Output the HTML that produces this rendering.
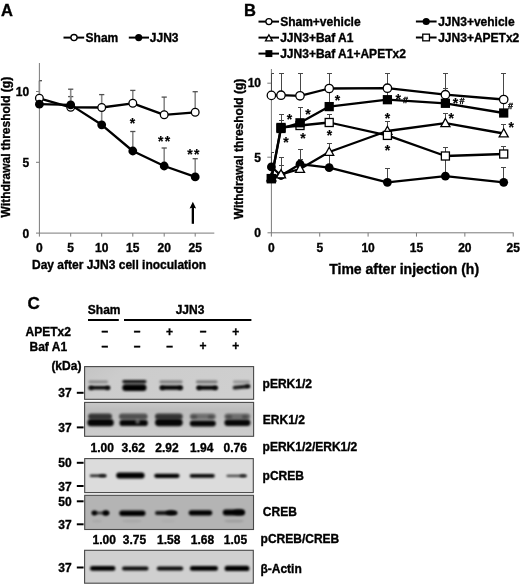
<!DOCTYPE html>
<html><head><meta charset="utf-8"><title>Figure</title>
<style>html,body{margin:0;padding:0;background:#fff;width:520px;height:585px;overflow:hidden}svg{display:block}</style>
</head><body>
<svg width="520" height="585" viewBox="0 0 520 585" font-family="'Liberation Sans', Arial, sans-serif" font-weight="bold">
<defs><filter id="bl" x="-30%" y="-150%" width="160%" height="400%"><feGaussianBlur stdDeviation="0.95"/></filter>
<filter id="bl2" x="-30%" y="-150%" width="160%" height="400%"><feGaussianBlur stdDeviation="1.3"/></filter>
<linearGradient id="g1" x1="0" y1="0" x2="1" y2="0.25"><stop offset="0" stop-color="#c4c4c4"/><stop offset="0.25" stop-color="#cccccc"/><stop offset="1" stop-color="#cfcfcf"/></linearGradient>
<linearGradient id="g2" x1="0" y1="0" x2="0" y2="1"><stop offset="0" stop-color="#c8c8c8"/><stop offset="0.2" stop-color="#bdbdbd"/><stop offset="0.45" stop-color="#c0c0c0"/><stop offset="0.75" stop-color="#cacaca"/><stop offset="1" stop-color="#cccccc"/></linearGradient>
</defs>
<rect width="520" height="585" fill="#fff"/>
<text x="1" y="16.3" font-size="16.5" text-anchor="start" stroke="#000" stroke-width="0.35" >A</text>
<line x1="63.5" y1="37.6" x2="84.2" y2="37.6" stroke="#000" stroke-width="2.0" />
<circle cx="74.0" cy="37.6" r="3.1" fill="#fff" stroke="#000" stroke-width="1.3"/>
<text x="85.6" y="42" font-size="12" text-anchor="start" stroke="#000" stroke-width="0.35" >Sham</text>
<line x1="128.8" y1="37.6" x2="149" y2="37.6" stroke="#000" stroke-width="2.0" />
<circle cx="138.7" cy="37.6" r="3.6" fill="#000"/>
<text x="149.8" y="42" font-size="12" text-anchor="start" stroke="#000" stroke-width="0.35" >JJN3</text>
<line x1="39.4" y1="63" x2="39.4" y2="233.2" stroke="#7a7a7a" stroke-width="1" />
<line x1="36" y1="233.1" x2="214.3" y2="233.1" stroke="#7a7a7a" stroke-width="1" />
<line x1="36" y1="91.5" x2="39.3" y2="91.5" stroke="#7a7a7a" stroke-width="1" />
<line x1="36" y1="162.3" x2="39.3" y2="162.3" stroke="#7a7a7a" stroke-width="1" />
<line x1="39.4" y1="233.1" x2="39.4" y2="236.6" stroke="#7a7a7a" stroke-width="1" />
<line x1="70.7" y1="233.1" x2="70.7" y2="236.6" stroke="#7a7a7a" stroke-width="1" />
<line x1="101.7" y1="233.1" x2="101.7" y2="236.6" stroke="#7a7a7a" stroke-width="1" />
<line x1="132.8" y1="233.1" x2="132.8" y2="236.6" stroke="#7a7a7a" stroke-width="1" />
<line x1="164.2" y1="233.1" x2="164.2" y2="236.6" stroke="#7a7a7a" stroke-width="1" />
<line x1="195.2" y1="233.1" x2="195.2" y2="236.6" stroke="#7a7a7a" stroke-width="1" />
<text x="29.2" y="95.6" font-size="12" text-anchor="end" stroke="#000" stroke-width="0.35" >10</text>
<text x="29.2" y="167.10000000000002" font-size="12" text-anchor="end" stroke="#000" stroke-width="0.35" >5</text>
<text x="29.2" y="237.60000000000002" font-size="12" text-anchor="end" stroke="#000" stroke-width="0.35" >0</text>
<text x="39.4" y="251.8" font-size="12" text-anchor="middle" stroke="#000" stroke-width="0.35" >0</text>
<text x="70.7" y="251.8" font-size="12" text-anchor="middle" stroke="#000" stroke-width="0.35" >5</text>
<text x="101.7" y="251.8" font-size="12" text-anchor="middle" stroke="#000" stroke-width="0.35" >10</text>
<text x="132.8" y="251.8" font-size="12" text-anchor="middle" stroke="#000" stroke-width="0.35" >15</text>
<text x="164.2" y="251.8" font-size="12" text-anchor="middle" stroke="#000" stroke-width="0.35" >20</text>
<text x="195.2" y="251.8" font-size="12" text-anchor="middle" stroke="#000" stroke-width="0.35" >25</text>
<text x="32.0" y="269.4" font-size="12" text-anchor="start" stroke="#000" stroke-width="0.35" >Day after JJN3 cell inoculation</text>
<text transform="translate(9.9,147.1) rotate(-90)" x="0" y="0" font-size="12" text-anchor="middle" stroke="#000" stroke-width="0.35">Withdrawal threshold (g)</text>
<line x1="39.4" y1="98.3" x2="39.4" y2="80.7" stroke="#8a8a8a" stroke-width="1.6" />
<line x1="39.4" y1="80.7" x2="42.0" y2="80.7" stroke="#505050" stroke-width="1.3" />
<line x1="70.7" y1="107.3" x2="70.7" y2="96.6" stroke="#8a8a8a" stroke-width="1.6" />
<line x1="68.10000000000001" y1="96.6" x2="73.3" y2="96.6" stroke="#505050" stroke-width="1.3" />
<line x1="101.7" y1="107.5" x2="101.7" y2="94.6" stroke="#8a8a8a" stroke-width="1.6" />
<line x1="99.10000000000001" y1="94.6" x2="104.3" y2="94.6" stroke="#505050" stroke-width="1.3" />
<line x1="132.8" y1="103.3" x2="132.8" y2="90.4" stroke="#8a8a8a" stroke-width="1.6" />
<line x1="130.20000000000002" y1="90.4" x2="135.4" y2="90.4" stroke="#505050" stroke-width="1.3" />
<line x1="164.2" y1="114.8" x2="164.2" y2="97.1" stroke="#8a8a8a" stroke-width="1.6" />
<line x1="161.6" y1="97.1" x2="166.79999999999998" y2="97.1" stroke="#505050" stroke-width="1.3" />
<line x1="195.2" y1="112.3" x2="195.2" y2="91.7" stroke="#8a8a8a" stroke-width="1.6" />
<line x1="192.6" y1="91.7" x2="197.79999999999998" y2="91.7" stroke="#505050" stroke-width="1.3" />
<line x1="70.7" y1="104.9" x2="70.7" y2="89.2" stroke="#8a8a8a" stroke-width="1.6" />
<line x1="68.10000000000001" y1="89.2" x2="73.3" y2="89.2" stroke="#505050" stroke-width="1.3" />
<line x1="101.7" y1="124.8" x2="101.7" y2="107.5" stroke="#8a8a8a" stroke-width="1.6" />
<line x1="99.10000000000001" y1="107.5" x2="104.3" y2="107.5" stroke="#505050" stroke-width="1.3" />
<line x1="132.8" y1="151.0" x2="132.8" y2="131.5" stroke="#8a8a8a" stroke-width="1.6" />
<line x1="130.20000000000002" y1="131.5" x2="135.4" y2="131.5" stroke="#505050" stroke-width="1.3" />
<line x1="164.2" y1="166.0" x2="164.2" y2="148.0" stroke="#8a8a8a" stroke-width="1.6" />
<line x1="161.6" y1="148.0" x2="166.79999999999998" y2="148.0" stroke="#505050" stroke-width="1.3" />
<line x1="195.2" y1="176.9" x2="195.2" y2="158.7" stroke="#8a8a8a" stroke-width="1.6" />
<line x1="192.6" y1="158.7" x2="197.79999999999998" y2="158.7" stroke="#505050" stroke-width="1.3" />
<polyline points="39.4,98.3 70.7,107.3 101.7,107.5 132.8,103.3 164.2,114.8 195.2,112.3" fill="none" stroke="#000" stroke-width="2.3" stroke-linejoin="round"/>
<polyline points="39.4,104.2 70.7,104.9 101.7,124.8 132.8,151.0 164.2,166.0 195.2,176.9" fill="none" stroke="#000" stroke-width="2.3" stroke-linejoin="round"/>
<circle cx="39.4" cy="98.3" r="3.85" fill="#fff" stroke="#000" stroke-width="1.3"/>
<circle cx="70.7" cy="107.3" r="3.85" fill="#fff" stroke="#000" stroke-width="1.3"/>
<circle cx="101.7" cy="107.5" r="3.85" fill="#fff" stroke="#000" stroke-width="1.3"/>
<circle cx="132.8" cy="103.3" r="3.85" fill="#fff" stroke="#000" stroke-width="1.3"/>
<circle cx="164.2" cy="114.8" r="3.85" fill="#fff" stroke="#000" stroke-width="1.3"/>
<circle cx="195.2" cy="112.3" r="3.85" fill="#fff" stroke="#000" stroke-width="1.3"/>
<circle cx="39.4" cy="104.2" r="4.4" fill="#000"/>
<circle cx="70.7" cy="104.9" r="4.4" fill="#000"/>
<circle cx="101.7" cy="124.8" r="4.4" fill="#000"/>
<circle cx="132.8" cy="151.0" r="4.4" fill="#000"/>
<circle cx="164.2" cy="166.0" r="4.4" fill="#000"/>
<circle cx="195.2" cy="176.9" r="4.4" fill="#000"/>
<text x="132.6" y="128.1" font-size="14" text-anchor="middle" stroke="#000" stroke-width="0.15">*</text>
<text x="164.7" y="145.70000000000002" font-size="14" text-anchor="middle" stroke="#000" stroke-width="0.15" letter-spacing="1.2">**</text>
<text x="194.0" y="159.3" font-size="14" text-anchor="middle" stroke="#000" stroke-width="0.15" letter-spacing="1.2">**</text>
<line x1="192.85" y1="206" x2="192.85" y2="223.8" stroke="#000" stroke-width="2.3" />
<polygon points="192.85,201.8 196.1,208.4 192.85,207.6 189.6,208.4" fill="#000"/>
<text x="244.0" y="15.6" font-size="16.5" text-anchor="start" stroke="#000" stroke-width="0.35" >B</text>
<line x1="258.5" y1="21.6" x2="279" y2="21.6" stroke="#000" stroke-width="2.0" />
<circle cx="268.9" cy="21.6" r="3.0500000000000003" fill="#fff" stroke="#000" stroke-width="1.3"/>
<text x="280.2" y="25.900000000000002" font-size="12" text-anchor="start" stroke="#000" stroke-width="0.35" >Sham+vehicle</text>
<line x1="258.5" y1="37.6" x2="279" y2="37.6" stroke="#000" stroke-width="2.0" />
<polygon points="268.9,34.73105 272.299,40.849250000000005 265.501,40.849250000000005" fill="#fff" stroke="#000" stroke-width="1.3" stroke-linejoin="miter"/>
<text x="280.2" y="41.9" font-size="12" text-anchor="start" stroke="#000" stroke-width="0.35" >JJN3+Baf A1</text>
<line x1="258.5" y1="53.6" x2="279" y2="53.6" stroke="#000" stroke-width="2.0" />
<rect x="265.435" y="50.135000000000005" width="6.93" height="6.93" fill="#000"/>
<text x="280.2" y="57.9" font-size="12" text-anchor="start" stroke="#000" stroke-width="0.35" >JJN3+Baf A1+APETx2</text>
<line x1="415.9" y1="21.5" x2="436.6" y2="21.5" stroke="#000" stroke-width="2.0" />
<circle cx="426.2" cy="21.5" r="3.6" fill="#000"/>
<text x="438.2" y="25.8" font-size="12" text-anchor="start" stroke="#000" stroke-width="0.35" >JJN3+vehicle</text>
<line x1="415.9" y1="37.5" x2="436.6" y2="37.5" stroke="#000" stroke-width="2.0" />
<rect x="422.76250000000005" y="34.1625" width="6.675" height="6.675" fill="#fff" stroke="#000" stroke-width="1.3"/>
<text x="438.2" y="41.8" font-size="12" text-anchor="start" stroke="#000" stroke-width="0.35" >JJN3+APETx2</text>
<line x1="271.4" y1="69" x2="271.4" y2="233" stroke="#7a7a7a" stroke-width="1" />
<line x1="267.5" y1="232.8" x2="513.6" y2="232.8" stroke="#7a7a7a" stroke-width="1" />
<line x1="267.3" y1="83.2" x2="271.4" y2="83.2" stroke="#7a7a7a" stroke-width="1" />
<line x1="267.3" y1="157.2" x2="271.4" y2="157.2" stroke="#7a7a7a" stroke-width="1" />
<line x1="271.35" y1="232.8" x2="271.35" y2="236.6" stroke="#7a7a7a" stroke-width="1" />
<text x="271.35" y="251.8" font-size="12" text-anchor="middle" stroke="#000" stroke-width="0.35" >0</text>
<line x1="319.725" y1="232.8" x2="319.725" y2="236.6" stroke="#7a7a7a" stroke-width="1" />
<text x="319.725" y="251.8" font-size="12" text-anchor="middle" stroke="#000" stroke-width="0.35" >5</text>
<line x1="368.1" y1="232.8" x2="368.1" y2="236.6" stroke="#7a7a7a" stroke-width="1" />
<text x="368.1" y="251.8" font-size="12" text-anchor="middle" stroke="#000" stroke-width="0.35" >10</text>
<line x1="416.475" y1="232.8" x2="416.475" y2="236.6" stroke="#7a7a7a" stroke-width="1" />
<text x="416.475" y="251.8" font-size="12" text-anchor="middle" stroke="#000" stroke-width="0.35" >15</text>
<line x1="464.85" y1="232.8" x2="464.85" y2="236.6" stroke="#7a7a7a" stroke-width="1" />
<text x="464.85" y="251.8" font-size="12" text-anchor="middle" stroke="#000" stroke-width="0.35" >20</text>
<line x1="513.225" y1="232.8" x2="513.225" y2="236.6" stroke="#7a7a7a" stroke-width="1" />
<text x="513.225" y="251.8" font-size="12" text-anchor="middle" stroke="#000" stroke-width="0.35" >25</text>
<text x="261.0" y="87.0" font-size="12" text-anchor="end" stroke="#000" stroke-width="0.35" >10</text>
<text x="261.0" y="161.5" font-size="12" text-anchor="end" stroke="#000" stroke-width="0.35" >5</text>
<text x="261.0" y="236.60000000000002" font-size="12" text-anchor="end" stroke="#000" stroke-width="0.35" >0</text>
<text x="329.2" y="273.6" font-size="14" text-anchor="start" stroke="#000" stroke-width="0.35" >Time after injection (h)</text>
<text transform="translate(242.7,149) rotate(-90)" x="0" y="0" font-size="12" text-anchor="middle" stroke="#000" stroke-width="0.35">Withdrawal threshold (g)</text>
<line x1="271.5" y1="95.4" x2="271.5" y2="73.5" stroke="#484848" stroke-width="1.0" />
<line x1="271.5" y1="73.5" x2="274.0" y2="73.5" stroke="#484848" stroke-width="1.0" />
<line x1="281.5" y1="95.2" x2="281.5" y2="73.5" stroke="#484848" stroke-width="1.0" />
<line x1="279.0" y1="73.5" x2="284.0" y2="73.5" stroke="#484848" stroke-width="1.0" />
<line x1="300.5" y1="95.8" x2="300.5" y2="73.5" stroke="#484848" stroke-width="1.0" />
<line x1="298.0" y1="73.5" x2="303.0" y2="73.5" stroke="#484848" stroke-width="1.0" />
<line x1="329.5" y1="88.5" x2="329.5" y2="73.5" stroke="#484848" stroke-width="1.0" />
<line x1="327.0" y1="73.5" x2="332.0" y2="73.5" stroke="#484848" stroke-width="1.0" />
<line x1="387.5" y1="88.2" x2="387.5" y2="73.5" stroke="#484848" stroke-width="1.0" />
<line x1="385.0" y1="73.5" x2="390.0" y2="73.5" stroke="#484848" stroke-width="1.0" />
<line x1="445.5" y1="94.7" x2="445.5" y2="73.5" stroke="#484848" stroke-width="1.0" />
<line x1="443.0" y1="73.5" x2="448.0" y2="73.5" stroke="#484848" stroke-width="1.0" />
<line x1="503.5" y1="99.5" x2="503.5" y2="73.5" stroke="#484848" stroke-width="1.0" />
<line x1="501.0" y1="73.5" x2="506.0" y2="73.5" stroke="#484848" stroke-width="1.0" />
<line x1="271.5" y1="166.9" x2="271.5" y2="152.5" stroke="#484848" stroke-width="1.0" />
<line x1="271.5" y1="152.5" x2="274.0" y2="152.5" stroke="#484848" stroke-width="1.0" />
<line x1="281.5" y1="175.5" x2="281.5" y2="165.5" stroke="#484848" stroke-width="1.0" />
<line x1="279.0" y1="165.5" x2="284.0" y2="165.5" stroke="#484848" stroke-width="1.0" />
<line x1="300.5" y1="164.2" x2="300.5" y2="149.5" stroke="#484848" stroke-width="1.0" />
<line x1="298.0" y1="149.5" x2="303.0" y2="149.5" stroke="#484848" stroke-width="1.0" />
<line x1="329.5" y1="167.7" x2="329.5" y2="153.5" stroke="#484848" stroke-width="1.0" />
<line x1="327.0" y1="153.5" x2="332.0" y2="153.5" stroke="#484848" stroke-width="1.0" />
<line x1="387.5" y1="182.3" x2="387.5" y2="168.5" stroke="#484848" stroke-width="1.0" />
<line x1="385.0" y1="168.5" x2="390.0" y2="168.5" stroke="#484848" stroke-width="1.0" />
<line x1="445.5" y1="176.2" x2="445.5" y2="157.5" stroke="#484848" stroke-width="1.0" />
<line x1="443.0" y1="157.5" x2="448.0" y2="157.5" stroke="#484848" stroke-width="1.0" />
<line x1="503.5" y1="182.3" x2="503.5" y2="167.5" stroke="#484848" stroke-width="1.0" />
<line x1="501.0" y1="167.5" x2="506.0" y2="167.5" stroke="#484848" stroke-width="1.0" />
<line x1="271.5" y1="177.5" x2="271.5" y2="178.5" stroke="#484848" stroke-width="1.0" />
<line x1="271.5" y1="178.5" x2="274.0" y2="178.5" stroke="#484848" stroke-width="1.0" />
<line x1="281.5" y1="174.4" x2="281.5" y2="157.5" stroke="#484848" stroke-width="1.0" />
<line x1="279.0" y1="157.5" x2="284.0" y2="157.5" stroke="#484848" stroke-width="1.0" />
<line x1="300.5" y1="169.0" x2="300.5" y2="159.5" stroke="#484848" stroke-width="1.0" />
<line x1="298.0" y1="159.5" x2="303.0" y2="159.5" stroke="#484848" stroke-width="1.0" />
<line x1="329.5" y1="152.0" x2="329.5" y2="143.5" stroke="#484848" stroke-width="1.0" />
<line x1="327.0" y1="143.5" x2="332.0" y2="143.5" stroke="#484848" stroke-width="1.0" />
<line x1="387.5" y1="131.0" x2="387.5" y2="121.5" stroke="#484848" stroke-width="1.0" />
<line x1="385.0" y1="121.5" x2="390.0" y2="121.5" stroke="#484848" stroke-width="1.0" />
<line x1="445.5" y1="123.2" x2="445.5" y2="113.5" stroke="#484848" stroke-width="1.0" />
<line x1="443.0" y1="113.5" x2="448.0" y2="113.5" stroke="#484848" stroke-width="1.0" />
<line x1="503.5" y1="133.5" x2="503.5" y2="124.5" stroke="#484848" stroke-width="1.0" />
<line x1="501.0" y1="124.5" x2="506.0" y2="124.5" stroke="#484848" stroke-width="1.0" />
<line x1="271.5" y1="178.6" x2="271.5" y2="178.5" stroke="#484848" stroke-width="1.0" />
<line x1="271.5" y1="178.5" x2="274.0" y2="178.5" stroke="#484848" stroke-width="1.0" />
<line x1="281.5" y1="127.5" x2="281.5" y2="120.5" stroke="#484848" stroke-width="1.0" />
<line x1="279.0" y1="120.5" x2="284.0" y2="120.5" stroke="#484848" stroke-width="1.0" />
<line x1="300.5" y1="125.5" x2="300.5" y2="119.5" stroke="#484848" stroke-width="1.0" />
<line x1="298.0" y1="119.5" x2="303.0" y2="119.5" stroke="#484848" stroke-width="1.0" />
<line x1="329.5" y1="122.5" x2="329.5" y2="114.5" stroke="#484848" stroke-width="1.0" />
<line x1="327.0" y1="114.5" x2="332.0" y2="114.5" stroke="#484848" stroke-width="1.0" />
<line x1="387.5" y1="135.4" x2="387.5" y2="131.5" stroke="#484848" stroke-width="1.0" />
<line x1="385.0" y1="131.5" x2="390.0" y2="131.5" stroke="#484848" stroke-width="1.0" />
<line x1="445.5" y1="156.0" x2="445.5" y2="147.5" stroke="#484848" stroke-width="1.0" />
<line x1="443.0" y1="147.5" x2="448.0" y2="147.5" stroke="#484848" stroke-width="1.0" />
<line x1="503.5" y1="154.0" x2="503.5" y2="146.5" stroke="#484848" stroke-width="1.0" />
<line x1="501.0" y1="146.5" x2="506.0" y2="146.5" stroke="#484848" stroke-width="1.0" />
<line x1="271.5" y1="178.6" x2="271.5" y2="178.5" stroke="#484848" stroke-width="1.0" />
<line x1="271.5" y1="178.5" x2="274.0" y2="178.5" stroke="#484848" stroke-width="1.0" />
<line x1="281.5" y1="128.5" x2="281.5" y2="114.5" stroke="#484848" stroke-width="1.0" />
<line x1="279.0" y1="114.5" x2="284.0" y2="114.5" stroke="#484848" stroke-width="1.0" />
<line x1="300.5" y1="122.8" x2="300.5" y2="107.5" stroke="#484848" stroke-width="1.0" />
<line x1="298.0" y1="107.5" x2="303.0" y2="107.5" stroke="#484848" stroke-width="1.0" />
<line x1="329.5" y1="106.6" x2="329.5" y2="73.5" stroke="#484848" stroke-width="1.0" />
<line x1="327.0" y1="73.5" x2="332.0" y2="73.5" stroke="#484848" stroke-width="1.0" />
<line x1="387.5" y1="99.7" x2="387.5" y2="88.5" stroke="#484848" stroke-width="1.0" />
<line x1="385.0" y1="88.5" x2="390.0" y2="88.5" stroke="#484848" stroke-width="1.0" />
<line x1="445.5" y1="103.3" x2="445.5" y2="88.5" stroke="#484848" stroke-width="1.0" />
<line x1="443.0" y1="88.5" x2="448.0" y2="88.5" stroke="#484848" stroke-width="1.0" />
<line x1="503.5" y1="113.0" x2="503.5" y2="100.5" stroke="#484848" stroke-width="1.0" />
<line x1="501.0" y1="100.5" x2="506.0" y2="100.5" stroke="#484848" stroke-width="1.0" />
<polyline points="271.4,95.4 281.0,95.2 300.0,95.8 329.2,88.5 387.4,88.2 445.4,94.7 503.7,99.5" fill="none" stroke="#000" stroke-width="2.3" stroke-linejoin="round"/>
<polyline points="271.4,166.9 281.0,175.5 300.0,164.2 329.2,167.7 387.4,182.3 445.4,176.2 503.7,182.3" fill="none" stroke="#000" stroke-width="2.3" stroke-linejoin="round"/>
<polyline points="271.4,177.5 281.0,174.4 300.0,169.0 329.2,152.0 387.4,131.0 445.4,123.2 503.7,133.5" fill="none" stroke="#000" stroke-width="2.3" stroke-linejoin="round"/>
<polyline points="271.4,178.6 281.0,127.5 300.0,125.5 329.2,122.5 387.4,135.4 445.4,156.0 503.7,154.0" fill="none" stroke="#000" stroke-width="2.3" stroke-linejoin="round"/>
<polyline points="271.4,178.6 281.0,128.5 300.0,122.8 329.2,106.6 387.4,99.7 445.4,103.3 503.7,113.0" fill="none" stroke="#000" stroke-width="2.3" stroke-linejoin="round"/>
<circle cx="271.4" cy="95.4" r="4.199999999999999" fill="#fff" stroke="#000" stroke-width="1.3"/>
<circle cx="281.0" cy="95.2" r="4.199999999999999" fill="#fff" stroke="#000" stroke-width="1.3"/>
<circle cx="300.0" cy="95.8" r="4.199999999999999" fill="#fff" stroke="#000" stroke-width="1.3"/>
<circle cx="329.2" cy="88.5" r="4.199999999999999" fill="#fff" stroke="#000" stroke-width="1.3"/>
<circle cx="387.4" cy="88.2" r="4.199999999999999" fill="#fff" stroke="#000" stroke-width="1.3"/>
<circle cx="445.4" cy="94.7" r="4.199999999999999" fill="#fff" stroke="#000" stroke-width="1.3"/>
<circle cx="503.7" cy="99.5" r="4.199999999999999" fill="#fff" stroke="#000" stroke-width="1.3"/>
<circle cx="271.4" cy="166.9" r="4.4" fill="#000"/>
<circle cx="281.0" cy="175.5" r="4.4" fill="#000"/>
<circle cx="300.0" cy="164.2" r="4.4" fill="#000"/>
<circle cx="329.2" cy="167.7" r="4.4" fill="#000"/>
<circle cx="387.4" cy="182.3" r="4.4" fill="#000"/>
<circle cx="445.4" cy="176.2" r="4.4" fill="#000"/>
<circle cx="503.7" cy="182.3" r="4.4" fill="#000"/>
<polygon points="271.4,172.7414 275.93199999999996,180.899 266.868,180.899" fill="#fff" stroke="#000" stroke-width="1.3" stroke-linejoin="miter"/>
<polygon points="281.0,169.6414 285.532,177.799 276.468,177.799" fill="#fff" stroke="#000" stroke-width="1.3" stroke-linejoin="miter"/>
<polygon points="300.0,164.2414 304.532,172.399 295.468,172.399" fill="#fff" stroke="#000" stroke-width="1.3" stroke-linejoin="miter"/>
<polygon points="329.2,147.2414 333.73199999999997,155.399 324.668,155.399" fill="#fff" stroke="#000" stroke-width="1.3" stroke-linejoin="miter"/>
<polygon points="387.4,126.2414 391.93199999999996,134.399 382.868,134.399" fill="#fff" stroke="#000" stroke-width="1.3" stroke-linejoin="miter"/>
<polygon points="445.4,118.4414 449.93199999999996,126.599 440.868,126.599" fill="#fff" stroke="#000" stroke-width="1.3" stroke-linejoin="miter"/>
<polygon points="503.7,128.7414 508.23199999999997,136.899 499.168,136.899" fill="#fff" stroke="#000" stroke-width="1.3" stroke-linejoin="miter"/>
<rect x="267.38" y="174.57999999999998" width="8.040000000000003" height="8.040000000000003" fill="#fff" stroke="#000" stroke-width="1.3"/>
<rect x="276.98" y="123.48" width="8.040000000000003" height="8.040000000000003" fill="#fff" stroke="#000" stroke-width="1.3"/>
<rect x="295.98" y="121.48" width="8.040000000000003" height="8.040000000000003" fill="#fff" stroke="#000" stroke-width="1.3"/>
<rect x="325.18" y="118.48" width="8.040000000000003" height="8.040000000000003" fill="#fff" stroke="#000" stroke-width="1.3"/>
<rect x="383.38" y="131.38" width="8.040000000000003" height="8.040000000000003" fill="#fff" stroke="#000" stroke-width="1.3"/>
<rect x="441.38" y="151.98" width="8.040000000000003" height="8.040000000000003" fill="#fff" stroke="#000" stroke-width="1.3"/>
<rect x="499.68" y="149.98" width="8.040000000000003" height="8.040000000000003" fill="#fff" stroke="#000" stroke-width="1.3"/>
<rect x="266.78" y="173.98" width="9.240000000000002" height="9.240000000000002" fill="#000"/>
<rect x="276.38" y="123.88" width="9.240000000000002" height="9.240000000000002" fill="#000"/>
<rect x="295.38" y="118.17999999999999" width="9.240000000000002" height="9.240000000000002" fill="#000"/>
<rect x="324.58" y="101.97999999999999" width="9.240000000000002" height="9.240000000000002" fill="#000"/>
<rect x="382.78" y="95.08" width="9.240000000000002" height="9.240000000000002" fill="#000"/>
<rect x="440.78" y="98.67999999999999" width="9.240000000000002" height="9.240000000000002" fill="#000"/>
<rect x="499.08" y="108.38" width="9.240000000000002" height="9.240000000000002" fill="#000"/>
<text x="289.6" y="123.5" font-size="14" text-anchor="middle" stroke="#000" stroke-width="0.15">*</text>
<text x="286.0" y="146.70000000000002" font-size="14" text-anchor="middle" stroke="#000" stroke-width="0.15">*</text>
<text x="307.9" y="119.2" font-size="14" text-anchor="middle" stroke="#000" stroke-width="0.15">*</text>
<text x="302.9" y="143.4" font-size="14" text-anchor="middle" stroke="#000" stroke-width="0.15">*</text>
<text x="337.6" y="105.4" font-size="14" text-anchor="middle" stroke="#000" stroke-width="0.15">*</text>
<text x="329.5" y="139.6" font-size="14" text-anchor="middle" stroke="#000" stroke-width="0.15">*</text>
<text x="398.2" y="103.9" font-size="14" text-anchor="middle" stroke="#000" stroke-width="0.15">*</text>
<text x="387.4" y="122.60000000000001" font-size="14" text-anchor="middle" stroke="#000" stroke-width="0.15">*</text>
<text x="387.6" y="154.9" font-size="14" text-anchor="middle" stroke="#000" stroke-width="0.15">*</text>
<text x="451.3" y="122.7" font-size="14" text-anchor="middle" stroke="#000" stroke-width="0.15">*</text>
<text x="511.3" y="132.4" font-size="14" text-anchor="middle" stroke="#000" stroke-width="0.15">*</text>
<text x="405.6" y="103.39999999999999" font-size="9" text-anchor="middle" stroke="#000" stroke-width="0.35">#</text>
<text x="462.0" y="104.39999999999999" font-size="9" text-anchor="middle" stroke="#000" stroke-width="0.35">#</text>
<text x="510.4" y="108.69999999999999" font-size="9" text-anchor="middle" stroke="#000" stroke-width="0.35">#</text>
<text x="455.6" y="107.7" font-size="14" text-anchor="middle" stroke="#000" stroke-width="0.15">*</text>
<text x="27.6" y="309.3" font-size="17" text-anchor="start" stroke="#000" stroke-width="0.35" >C</text>
<text x="104.2" y="314.3" font-size="12" text-anchor="middle" stroke="#000" stroke-width="0.35" >Sham</text>
<text x="190.0" y="314.1" font-size="12" text-anchor="middle" stroke="#000" stroke-width="0.35" >JJN3</text>
<line x1="88" y1="320" x2="118.8" y2="320" stroke="#000" stroke-width="2" />
<line x1="124" y1="320" x2="251.4" y2="320" stroke="#000" stroke-width="2" />
<text x="70.9" y="335.8" font-size="12" text-anchor="end" stroke="#000" stroke-width="0.35" >APETx2</text>
<text x="48.3" y="350.5" font-size="12" text-anchor="middle" stroke="#000" stroke-width="0.35" >Baf A1</text>
<text x="104.8" y="335.1" font-size="12" text-anchor="middle" stroke="#000" stroke-width="0.35" >–</text>
<text x="137.2" y="335.1" font-size="12" text-anchor="middle" stroke="#000" stroke-width="0.35" >–</text>
<text x="169.6" y="335.7" font-size="12" text-anchor="middle" stroke="#000" stroke-width="0.35" >+</text>
<text x="203.0" y="335.1" font-size="12" text-anchor="middle" stroke="#000" stroke-width="0.35" >–</text>
<text x="235.8" y="335.7" font-size="12" text-anchor="middle" stroke="#000" stroke-width="0.35" >+</text>
<text x="104.8" y="349.6" font-size="12" text-anchor="middle" stroke="#000" stroke-width="0.35" >–</text>
<text x="137.2" y="349.6" font-size="12" text-anchor="middle" stroke="#000" stroke-width="0.35" >–</text>
<text x="169.6" y="349.6" font-size="12" text-anchor="middle" stroke="#000" stroke-width="0.35" >–</text>
<text x="203.0" y="350.3" font-size="12" text-anchor="middle" stroke="#000" stroke-width="0.35" >+</text>
<text x="235.8" y="350.3" font-size="12" text-anchor="middle" stroke="#000" stroke-width="0.35" >+</text>
<text x="81.4" y="370.0" font-size="12" text-anchor="end" stroke="#000" stroke-width="0.35" >(kDa)</text>
<rect x="84.6" y="366.6" width="169.0" height="32.69999999999999" fill="url(#g1)"/>
<rect x="84.6" y="366.6" width="169.0" height="32.69999999999999" fill="none" stroke="#484848" stroke-width="1.1"/>
<text x="71.6" y="397.3" font-size="12" text-anchor="end" stroke="#000" stroke-width="0.35" >37</text>
<line x1="76.8" y1="392.8" x2="83.6" y2="392.8" stroke="#000" stroke-width="2" />
<rect x="88.5" y="380.59999999999997" width="19.5" height="2.6" rx="1.3" fill="#000" fill-opacity="0.33" filter="url(#bl)"/>
<rect x="159.5" y="380.59999999999997" width="23.0" height="2.6" rx="1.3" fill="#000" fill-opacity="0.42" filter="url(#bl)"/>
<rect x="196" y="380.59999999999997" width="21.5" height="2.6" rx="1.3" fill="#000" fill-opacity="0.45" filter="url(#bl)"/>
<rect x="233" y="380.59999999999997" width="17" height="2.6" rx="1.3" fill="#000" fill-opacity="0.3" filter="url(#bl)"/>
<rect x="88.6" y="385.95" width="21.5" height="3.5" rx="1.75" fill="#000" fill-opacity="0.97" filter="url(#bl)"/>
<ellipse cx="91.0" cy="388.0" rx="2.5" ry="2.2" fill="#000" fill-opacity="0.6" filter="url(#bl)"/>
<ellipse cx="107.69999999999999" cy="388.0" rx="2.5" ry="2.2" fill="#000" fill-opacity="0.6" filter="url(#bl)"/>
<rect x="159.8" y="385.59999999999997" width="22.899999999999977" height="4.2" rx="2.1" fill="#000" fill-opacity="1.0" filter="url(#bl)"/>
<ellipse cx="162.20000000000002" cy="388.0" rx="2.5" ry="2.2" fill="#000" fill-opacity="0.6" filter="url(#bl)"/>
<ellipse cx="180.29999999999998" cy="388.0" rx="2.5" ry="2.2" fill="#000" fill-opacity="0.6" filter="url(#bl)"/>
<rect x="196.5" y="385.7" width="21.19999999999999" height="4.0" rx="2.0" fill="#000" fill-opacity="1.0" filter="url(#bl)"/>
<ellipse cx="198.9" cy="388.0" rx="2.5" ry="2.2" fill="#000" fill-opacity="0.6" filter="url(#bl)"/>
<ellipse cx="215.29999999999998" cy="388.0" rx="2.5" ry="2.2" fill="#000" fill-opacity="0.6" filter="url(#bl)"/>
<rect x="232.6" y="385.2" width="17.6" height="3.5" rx="1.75" fill="#000" fill-opacity="0.95" filter="url(#bl)" transform="rotate(-5.5 241.4 386.95)"/>
<ellipse cx="247.5" cy="386.3" rx="2.6" ry="1.7" fill="#000" fill-opacity="0.7" filter="url(#bl)"/>
<rect x="122.3" y="380.0" width="24.200000000000003" height="3.2" rx="1.6" fill="#000" fill-opacity="0.92" filter="url(#bl)"/>
<rect x="122.3" y="384.6" width="24.200000000000003" height="6.4" rx="3.2" fill="#000" fill-opacity="1.0" filter="url(#bl)"/>
<rect x="124" y="383.6" width="21" height="2.0" rx="1.0" fill="#000" fill-opacity="0.45" filter="url(#bl)"/>
<rect x="84.6" y="402.4" width="169.0" height="33.900000000000034" fill="url(#g2)"/>
<rect x="84.6" y="402.4" width="169.0" height="33.900000000000034" fill="none" stroke="#484848" stroke-width="1.1"/>
<text x="71.6" y="431.9" font-size="12" text-anchor="end" stroke="#000" stroke-width="0.35" >37</text>
<line x1="76.8" y1="427.4" x2="83.6" y2="427.4" stroke="#000" stroke-width="2" />
<rect x="88.1" y="413.4" width="23.900000000000006" height="6.0" rx="3.0" fill="#000" fill-opacity="0.72" filter="url(#bl2)"/>
<rect x="119" y="413.4" width="28.599999999999994" height="6.0" rx="3.0" fill="#000" fill-opacity="0.58" filter="url(#bl2)"/>
<rect x="155" y="413.4" width="27.69999999999999" height="6.0" rx="3.0" fill="#000" fill-opacity="0.72" filter="url(#bl2)"/>
<rect x="189.8" y="413.4" width="26.0" height="6.0" rx="3.0" fill="#000" fill-opacity="0.42" filter="url(#bl2)"/>
<rect x="224.4" y="413.4" width="26.0" height="6.0" rx="3.0" fill="#000" fill-opacity="0.42" filter="url(#bl2)"/>
<ellipse cx="194" cy="416.8" rx="3.2" ry="2.0" fill="#000" fill-opacity="0.3" filter="url(#bl)"/>
<ellipse cx="211" cy="416.8" rx="3.2" ry="2.0" fill="#000" fill-opacity="0.3" filter="url(#bl)"/>
<ellipse cx="229" cy="416.8" rx="3.2" ry="2.0" fill="#000" fill-opacity="0.3" filter="url(#bl)"/>
<ellipse cx="245" cy="416.8" rx="3.2" ry="2.0" fill="#000" fill-opacity="0.3" filter="url(#bl)"/>
<rect x="87.3" y="419.09999999999997" width="26.5" height="7.2" rx="3.6" fill="#000" fill-opacity="0.97" filter="url(#bl)"/>
<rect x="155" y="418.7" width="27.69999999999999" height="7.6" rx="3.8" fill="#000" fill-opacity="0.97" filter="url(#bl)"/>
<rect x="189.8" y="420.4" width="26.0" height="6.0" rx="3.0" fill="#000" fill-opacity="0.97" filter="url(#bl)"/>
<rect x="224.4" y="419.6" width="26.0" height="6.4" rx="3.2" fill="#000" fill-opacity="0.97" filter="url(#bl)"/>
<rect x="119.5" y="419.7" width="28.30000000000001" height="6.4" rx="3.2" fill="#000" fill-opacity="0.97" filter="url(#bl)"/>
<ellipse cx="137.6" cy="421.6" rx="2.2" ry="2.4" fill="#c8c8c8" fill-opacity="0.45" filter="url(#bl)"/>
<text x="102.2" y="451.6" font-size="12" text-anchor="middle" stroke="#000" stroke-width="0.35" >1.00</text>
<text x="133.2" y="451.6" font-size="12" text-anchor="middle" stroke="#000" stroke-width="0.35" >3.62</text>
<text x="167.0" y="451.6" font-size="12" text-anchor="middle" stroke="#000" stroke-width="0.35" >2.92</text>
<text x="201.7" y="451.6" font-size="12" text-anchor="middle" stroke="#000" stroke-width="0.35" >1.94</text>
<text x="235.2" y="451.6" font-size="12" text-anchor="middle" stroke="#000" stroke-width="0.35" >0.76</text>
<rect x="84.7" y="458.6" width="168.60000000000002" height="34.0" fill="#dcdcdc" stroke="#484848" stroke-width="1.1"/>
<text x="71.6" y="467.3" font-size="12" text-anchor="end" stroke="#000" stroke-width="0.35" >50</text>
<line x1="76.8" y1="462.8" x2="83.6" y2="462.8" stroke="#000" stroke-width="2" />
<text x="71.6" y="490.5" font-size="12" text-anchor="end" stroke="#000" stroke-width="0.35" >37</text>
<line x1="76.8" y1="486.0" x2="83.6" y2="486.0" stroke="#000" stroke-width="2" />
<rect x="89.8" y="474.5" width="16.700000000000003" height="2.6" rx="1.3" fill="#000" fill-opacity="0.85" filter="url(#bl)"/>
<ellipse cx="102.5" cy="475.8" rx="3.6" ry="1.5" fill="#000" fill-opacity="0.7" filter="url(#bl)"/>
<rect x="116.2" y="472.5" width="28.39999999999999" height="6.0" rx="3.0" fill="#000" fill-opacity="1.0" filter="url(#bl)"/>
<rect x="154.2" y="473.7" width="25.400000000000006" height="4.2" rx="2.1" fill="#000" fill-opacity="1.0" filter="url(#bl)"/>
<rect x="189.7" y="473.90000000000003" width="25.100000000000023" height="3.8" rx="1.9" fill="#000" fill-opacity="0.97" filter="url(#bl)"/>
<rect x="226.4" y="474.75" width="20.400000000000006" height="2.3" rx="1.15" fill="#000" fill-opacity="0.7" filter="url(#bl)"/>
<ellipse cx="243.0" cy="475.8" rx="3.4" ry="1.5" fill="#000" fill-opacity="0.7" filter="url(#bl)"/>
<rect x="84.7" y="495.3" width="168.8" height="34.19999999999999" fill="#b4b4b4" stroke="#484848" stroke-width="1.1"/>
<text x="71.6" y="505.8" font-size="12" text-anchor="end" stroke="#000" stroke-width="0.35" >50</text>
<line x1="76.8" y1="501.3" x2="83.6" y2="501.3" stroke="#000" stroke-width="2" />
<text x="71.6" y="528.8" font-size="12" text-anchor="end" stroke="#000" stroke-width="0.35" >37</text>
<line x1="76.8" y1="524.3" x2="83.6" y2="524.3" stroke="#000" stroke-width="2" />
<ellipse cx="94.4" cy="513.0" rx="2.7" ry="2.4" fill="#000" fill-opacity="0.95" filter="url(#bl)"/>
<ellipse cx="105.8" cy="513.0" rx="3.3" ry="2.7" fill="#000" fill-opacity="1.0" filter="url(#bl)"/>
<rect x="92" y="511.8" width="17.200000000000003" height="2.4" rx="1.2" fill="#000" fill-opacity="0.7" filter="url(#bl)"/>
<rect x="119.3" y="510.50000000000006" width="26.200000000000003" height="5.4" rx="2.7" fill="#000" fill-opacity="1.0" filter="url(#bl)"/>
<rect x="155" y="510.9" width="22.5" height="4.0" rx="2.0" fill="#000" fill-opacity="0.88" filter="url(#bl)"/>
<ellipse cx="171" cy="512.8" rx="5.5" ry="2.5" fill="#000" fill-opacity="0.9" filter="url(#bl)"/>
<rect x="188.7" y="510.19999999999993" width="23.5" height="5.2" rx="2.6" fill="#000" fill-opacity="1.0" filter="url(#bl)"/>
<rect x="222.8" y="509.6" width="22.19999999999999" height="5.8" rx="2.9" fill="#000" fill-opacity="1.0" filter="url(#bl)"/>
<ellipse cx="238.5" cy="512.2" rx="5.5" ry="3.0" fill="#000" fill-opacity="0.6" filter="url(#bl)"/>
<ellipse cx="97" cy="521.0" rx="5.0" ry="1.6" fill="#000" fill-opacity="0.06" filter="url(#bl2)"/>
<ellipse cx="132" cy="521.0" rx="10.0" ry="1.6" fill="#000" fill-opacity="0.07" filter="url(#bl2)"/>
<ellipse cx="168" cy="521.0" rx="7.0" ry="1.6" fill="#000" fill-opacity="0.04" filter="url(#bl2)"/>
<ellipse cx="234" cy="521.0" rx="10.0" ry="1.6" fill="#000" fill-opacity="0.12" filter="url(#bl2)"/>
<text x="104.2" y="544.0" font-size="12" text-anchor="middle" stroke="#000" stroke-width="0.35" >1.00</text>
<text x="134.5" y="544.0" font-size="12" text-anchor="middle" stroke="#000" stroke-width="0.35" >3.75</text>
<text x="168.8" y="544.0" font-size="12" text-anchor="middle" stroke="#000" stroke-width="0.35" >1.58</text>
<text x="202.4" y="544.0" font-size="12" text-anchor="middle" stroke="#000" stroke-width="0.35" >1.68</text>
<text x="235.4" y="544.0" font-size="12" text-anchor="middle" stroke="#000" stroke-width="0.35" >1.05</text>
<rect x="84.6" y="550.3" width="168.70000000000002" height="32.90000000000009" fill="#d0d0d0" stroke="#484848" stroke-width="1.1"/>
<text x="71.6" y="572.0" font-size="12" text-anchor="end" stroke="#000" stroke-width="0.35" >37</text>
<line x1="76.8" y1="567.5" x2="83.6" y2="567.5" stroke="#000" stroke-width="2" />
<rect x="90" y="566.0" width="25.400000000000006" height="4.8" rx="2.4" fill="#000" fill-opacity="1.0" filter="url(#bl)"/>
<rect x="122" y="566.4" width="26.5" height="4.0" rx="2.0" fill="#000" fill-opacity="0.95" filter="url(#bl)"/>
<rect x="156.8" y="566.4" width="26.399999999999977" height="4.0" rx="2.0" fill="#000" fill-opacity="0.95" filter="url(#bl)"/>
<rect x="189.9" y="566.1" width="28.099999999999994" height="4.6" rx="2.3" fill="#000" fill-opacity="1.0" filter="url(#bl)"/>
<rect x="224.6" y="565.8" width="24.80000000000001" height="5.2" rx="2.6" fill="#000" fill-opacity="1.0" filter="url(#bl)"/>
<text x="262.6" y="387.8" font-size="12" text-anchor="start" stroke="#000" stroke-width="0.35" >pERK1/2</text>
<text x="262.8" y="424.2" font-size="12" text-anchor="start" stroke="#000" stroke-width="0.35" >ERK1/2</text>
<text x="262.6" y="451.3" font-size="12" text-anchor="start" stroke="#000" stroke-width="0.35" >pERK1/2/ERK1/2</text>
<text x="262.6" y="480.1" font-size="12" text-anchor="start" stroke="#000" stroke-width="0.35" >pCREB</text>
<text x="262.8" y="515.7" font-size="12" text-anchor="start" stroke="#000" stroke-width="0.35" >CREB</text>
<text x="260.6" y="543.0" font-size="12" text-anchor="start" stroke="#000" stroke-width="0.35" >pCREB/CREB</text>
<text x="260.4" y="572.5" font-size="12" text-anchor="start" stroke="#000" stroke-width="0.35" >β-Actin</text>
</svg>
</body></html>
